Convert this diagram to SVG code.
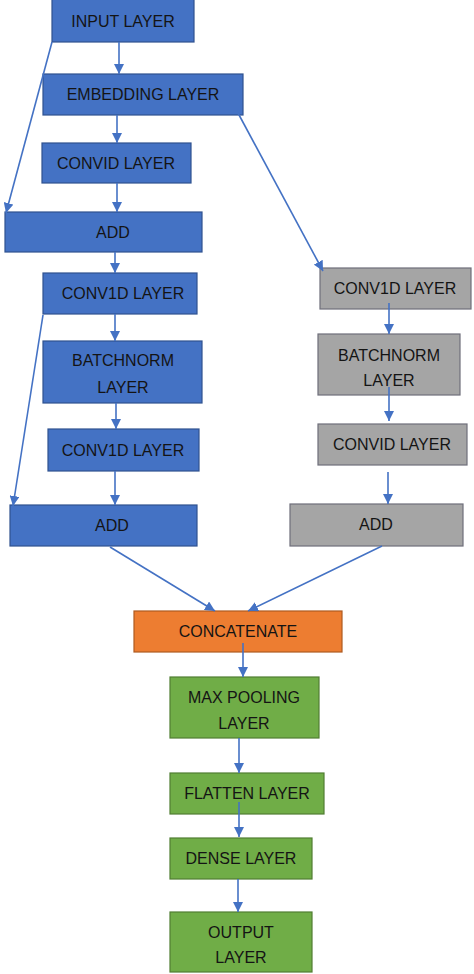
<svg xmlns="http://www.w3.org/2000/svg" width="474" height="974" viewBox="0 0 474 974">
<style>
rect{stroke-width:1.2}
.b{fill:#4472C4;stroke:#2F528F}
.g{fill:#A5A5A5;stroke:#6E6E7A}
.o{fill:#ED7D31;stroke:#AE5A21}
.v{fill:#70AD47;stroke:#507E32}
text{font-family:"Liberation Sans",Arial,sans-serif;font-size:16px;fill:#141414;text-anchor:middle}
.c line{stroke:#4472C4;stroke-width:1.6;marker-end:url(#ah)}
</style>
<defs>
<marker id="ah" markerUnits="userSpaceOnUse" markerWidth="10" markerHeight="10" refX="10" refY="5" orient="auto">
<path d="M0,0 L10,5 L0,10 z" fill="#4472C4"/>
</marker>
</defs>
<rect width="474" height="974" fill="#fff" stroke="none"/>
<g id="input"><rect class="b" x="52" y="-1" width="142" height="43"/><text x="123" y="27">INPUT LAYER</text></g>
<g id="embedding"><rect class="b" x="43" y="74" width="200" height="41"/><text x="143" y="100">EMBEDDING LAYER</text></g>
<g id="conv1"><rect class="b" x="42" y="143" width="149" height="40"/><text x="116" y="169">CONVID LAYER</text></g>
<g id="add1"><rect class="b" x="5" y="212" width="197" height="40"/><text x="113" y="238">ADD</text></g>
<g id="conv2"><rect class="b" x="43" y="273" width="154" height="41"/><text x="123" y="299">CONV1D LAYER</text></g>
<g id="bn1"><rect class="b" x="43" y="341" width="159" height="62"/><text x="123" y="366">BATCHNORM</text><text x="123" y="393">LAYER</text></g>
<g id="conv3"><rect class="b" x="48" y="429" width="151" height="42"/><text x="123" y="456">CONV1D LAYER</text></g>
<g id="add2"><rect class="b" x="10" y="505" width="187" height="41"/><text x="112" y="531">ADD</text></g>
<g id="rconv1"><rect class="g" x="320" y="268" width="151" height="41"/><text x="395" y="294">CONV1D LAYER</text></g>
<g id="rbn"><rect class="g" x="318" y="334" width="142" height="61"/><text x="389" y="361">BATCHNORM</text><text x="389" y="386">LAYER</text></g>
<g id="rconv2"><rect class="g" x="318" y="424" width="149" height="41"/><text x="392" y="450">CONVID LAYER</text></g>
<g id="radd"><rect class="g" x="290" y="504" width="173" height="42"/><text x="376" y="530">ADD</text></g>
<g id="concat"><rect class="o" x="134" y="611" width="208" height="41"/><text x="238" y="637">CONCATENATE</text></g>
<g id="maxpool"><rect class="v" x="170" y="677" width="149" height="61"/><text x="244" y="703">MAX POOLING</text><text x="244" y="729">LAYER</text></g>
<g id="flatten"><rect class="v" x="170" y="773" width="154" height="41"/><text x="247" y="799">FLATTEN LAYER</text></g>
<g id="dense"><rect class="v" x="170" y="838" width="142" height="41"/><text x="241" y="864">DENSE LAYER</text></g>
<g id="output"><rect class="v" x="170" y="912" width="142" height="60"/><text x="241" y="938">OUTPUT</text><text x="241" y="963">LAYER</text></g>
<g id="connectors" class="c">
<line x1="119" y1="42" x2="119" y2="74"/>
<line x1="117" y1="115" x2="117" y2="143"/>
<line x1="117" y1="183" x2="117" y2="212"/>
<line x1="52" y1="42" x2="6" y2="213"/>
<line x1="238" y1="113" x2="323" y2="271"/>
<line x1="115" y1="252" x2="115" y2="273"/>
<line x1="115" y1="314" x2="115" y2="341"/>
<line x1="116" y1="403" x2="116" y2="429"/>
<line x1="115" y1="471" x2="115" y2="505"/>
<line x1="43" y1="315" x2="13" y2="506"/>
<line x1="389" y1="303" x2="389" y2="334"/>
<line x1="389" y1="387" x2="389" y2="421"/>
<line x1="388" y1="472" x2="388" y2="504"/>
<line x1="110" y1="547" x2="215" y2="611"/>
<line x1="382" y1="546" x2="248" y2="611"/>
<line x1="243" y1="643" x2="243" y2="677"/>
<line x1="239" y1="738" x2="239" y2="773"/>
<line x1="239" y1="802" x2="239" y2="837"/>
<line x1="238" y1="879" x2="238" y2="912"/>
</g>
</svg>
